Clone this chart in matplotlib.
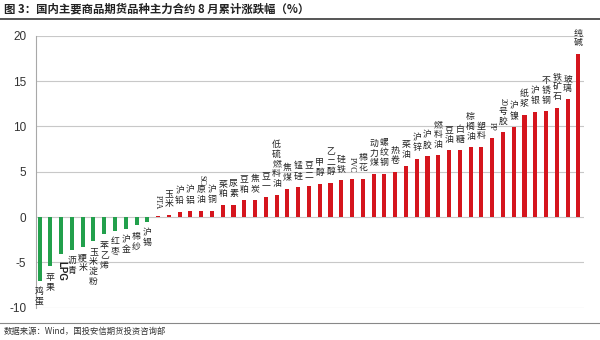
import re
import matplotlib
matplotlib.use("Agg")
import matplotlib.pyplot as plt
from matplotlib.lines import Line2D

plt.rcParams['font.family'] = ['Noto Sans CJK SC', 'DejaVu Sans']

title = "图 3：国内主要商品期货品种主力合约 8 月累计涨跌幅（%）"
source = "数据来源：Wind，国投安信期货投资咨询部"

products = ["鸡蛋", "苹果", "LPG", "沥青", "粳米", "玉米淀粉", "苯乙烯", "红枣", "沪金", "棉纱", "沪锡",
            "PTA", "玉米", "沪铅", "沪铝", "SC原油", "沪铜", "菜粕", "尿素", "豆粕", "焦炭",
            "豆一", "低硫燃料油", "焦煤", "锰硅", "豆二", "甲醇", "乙二醇", "硅铁", "PVC", "棉花",
            "动力煤", "螺纹钢", "热卷", "菜油", "沪锌", "沪胶", "燃料油", "豆油", "白糖", "棕榈油",
            "塑料", "PP", "20号胶", "沪镍", "纸浆", "沪银", "不锈钢", "铁矿石", "玻璃", "纯碱"]
changes = [-7.0, -5.4, -4.1, -3.6, -3.3, -2.6, -1.9, -1.5, -1.3, -0.9, -0.5,
           0.15, 0.25, 0.57, 0.64, 0.68, 0.71, 1.32, 1.36, 1.85, 1.9,
           2.18, 2.45, 3.1, 3.35, 3.42, 3.68, 3.75, 4.12, 4.15, 4.23,
           4.74, 4.76, 5.0, 5.66, 6.39, 6.72, 6.79, 7.34, 7.36, 7.67,
           7.71, 8.74, 9.36, 9.91, 11.26, 11.63, 11.65, 12.03, 12.99, 17.97]
yticks = [-10, -5, 0, 5, 10, 15, 20]

RED = '#D5151D'
GREEN = '#22A04C'

fig = plt.figure(figsize=(6, 3.4), dpi=100)
ax = fig.add_axes([0.06, 0.095, 0.913, 0.80])

x = list(range(len(products)))
colors = [RED if v >= 0 else GREEN for v in changes]
ax.bar(x, changes, width=0.38, color=colors, zorder=3)

ax.set_xlim(-0.33, len(products) - 0.5)
ax.set_ylim(-10, 20)
ax.set_yticks(yticks)
ax.set_yticklabels([str(t) for t in yticks], family='Liberation Sans', fontsize=8.5, color='#333333')
ax.tick_params(axis='y', length=0, pad=7)
ax.set_xticks([])
ax.grid(axis='y', color='#C8C8C8', linewidth=0.8, zorder=0)
for side in ('top', 'right', 'bottom'):
    ax.spines[side].set_visible(False)
ax.spines['left'].set_color('#A8A8A8')
ax.spines['left'].set_linewidth(0.8)

renderer = fig.canvas.get_renderer()
CJK_FS = 6.4
CJK_PITCH = 7.1   # points per stacked character
GAP = 4.8         # points between bar end and label


def stacked_label(xi, val, label):
    tokens = re.findall(r'[A-Za-z0-9]+|.', label)
    up = val >= 0
    order = tokens[::-1] if up else tokens
    offset = GAP
    for tok in order:
        latin = tok.isascii()
        if latin:
            bold = tok == 'LPG'
            props = dict(rotation=-90, fontsize=7 if bold else 5.8,
                         family='Liberation Sans' if bold else 'Liberation Serif',
                         fontweight='bold' if bold else 'normal')
        else:
            props = dict(rotation=0, fontsize=CJK_FS)
        t = ax.annotate(tok, xy=(xi, val), xytext=(0, offset if up else -offset),
                        textcoords='offset points', ha='center',
                        va='bottom' if up else 'top', color='#222222',
                        annotation_clip=False, **props)
        if latin:
            h = t.get_window_extent(renderer).height * 72 / fig.dpi + 0.8
        else:
            h = CJK_PITCH
        offset += h


for xi, v, name in zip(x, changes, products):
    stacked_label(xi, v, name)

fig.text(0.006, 0.973, title, fontsize=8.2, fontweight='bold', color='#222222',
         ha='left', va='center')
fig.add_artist(Line2D([0, 1], [0.944, 0.944], transform=fig.transFigure,
                      color='#555555', linewidth=1.4))
fig.add_artist(Line2D([0, 1], [0.05, 0.05], transform=fig.transFigure,
                      color='#888888', linewidth=0.8))
fig.text(0.006, 0.026, source, fontsize=6, style='italic', color='#333333',
         ha='left', va='center')

fig.savefig('out.png', dpi=100)
